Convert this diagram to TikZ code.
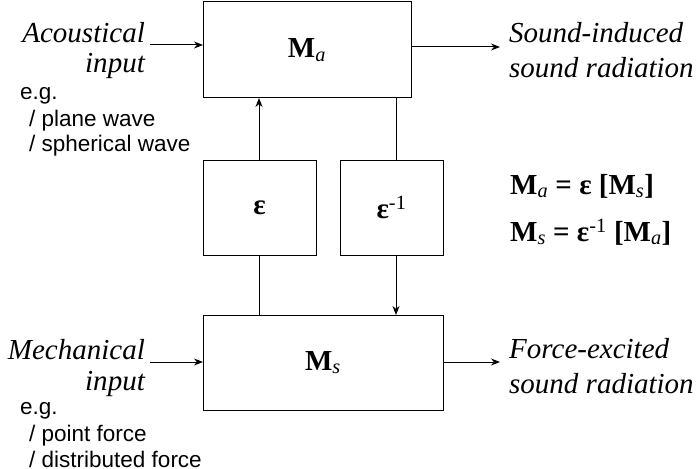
\documentclass[tikz,border=0pt]{standalone}
\usepackage{fontspec}
\usetikzlibrary{arrows.meta}
\setmainfont{Liberation Serif}
\newfontfamily\lsans{Liberation Sans}
\newcommand{\Mx}[1]{\textbf{M}\textsubscript{\textit{#1}}}
\newcommand{\epsinv}{\textbf{ε}\textsuperscript{-1}}
\begin{document}
\begin{tikzpicture}[x=1pt,y=-1pt,
 box/.style={draw,line width=1pt,inner sep=0},
 arr/.style={-{Stealth[length=9pt,width=7pt]},line width=1pt},
 ln/.style={line width=1pt},
 it/.style={font=\fontsize{29}{32}\selectfont\itshape,inner sep=0},
 sf/.style={font=\fontsize{22.5}{25}\selectfont\lsans,inner sep=0,anchor=west},
 bm/.style={font=\fontsize{29}{32}\selectfont}]
\useasboundingbox (0,0) rectangle (700,468);
\node[box,minimum width=208,minimum height=96] (Ma) at (307,50) {};
\node[bm] at (Ma) {\Mx{a}};
\node[box,minimum width=113,minimum height=95] (E) at (259.5,207.5) {};
\node[bm] at (E) {\textbf{ε}};
\node[box,minimum width=103,minimum height=95] (Ei) at (391.5,207.5) {};
\node[bm] at (Ei) {\epsinv};
\node[box,minimum width=240,minimum height=95] (Ms) at (323,362.5) {};
\node[bm] at (Ms) {\Mx{s}};
\coordinate (ebt) at (259,160); \coordinate (mab1) at (259,98);
\draw[arr] (ebt) -- (mab1);
\coordinate (mab2) at (396,98); \coordinate (eit) at (396,160);
\draw[ln] (mab2) -- (eit);
\coordinate (eib) at (396,255); \coordinate (mst2) at (396,315);
\draw[arr] (eib) -- (mst2);
\coordinate (eb) at (259,255); \coordinate (mst1) at (259,315);
\draw[ln] (eb) -- (mst1);
\coordinate (ain) at (150,45); \coordinate (maL) at (203,45);
\draw[arr] (ain) -- (maL);
\coordinate (maR) at (411,47); \coordinate (aout) at (500,47);
\draw[arr] (maR) -- (aout);
\coordinate (min) at (150,362); \coordinate (msL) at (203,362);
\draw[arr] (min) -- (msL);
\coordinate (msR) at (443,362); \coordinate (mout) at (500,362);
\draw[arr] (msR) -- (mout);
\node[it,anchor=east] (t1) at (145,33) {Acoustical};
\node[it,anchor=east] (t2) at (145,66) {input};
\node[sf] (t3) at (20,96) {e.g.};
\node[sf] (t4) at (29,121) {/ plane wave};
\node[sf] (t5) at (29,146) {/ spherical wave};
\node[it,anchor=west] (t6) at (509,33) {Sound-induced};
\node[it,anchor=west] (t7) at (509,68) {sound radiation};
\node[it,anchor=east] (t8) at (145,350) {Mechanical};
\node[it,anchor=east] (t9) at (145,384) {input};
\node[sf] (t10) at (20,411) {e.g.};
\node[sf] (t11) at (29,436) {/ point force};
\node[sf] (t12) at (29,459) {/ distributed force};
\node[it,anchor=west] (t13) at (509,349) {Force-excited};
\node[it,anchor=west] (t14) at (509,384) {sound radiation};
\node[bm,anchor=west,inner sep=0] (q1) at (510,186) {\Mx{a} \textbf{= ε [}\Mx{s}\textbf{]}};
\node[bm,anchor=west,inner sep=0] (q2) at (510,232) {\Mx{s} \textbf{=} \epsinv\ \textbf{[}\Mx{a}\textbf{]}};
\end{tikzpicture}
\end{document}
